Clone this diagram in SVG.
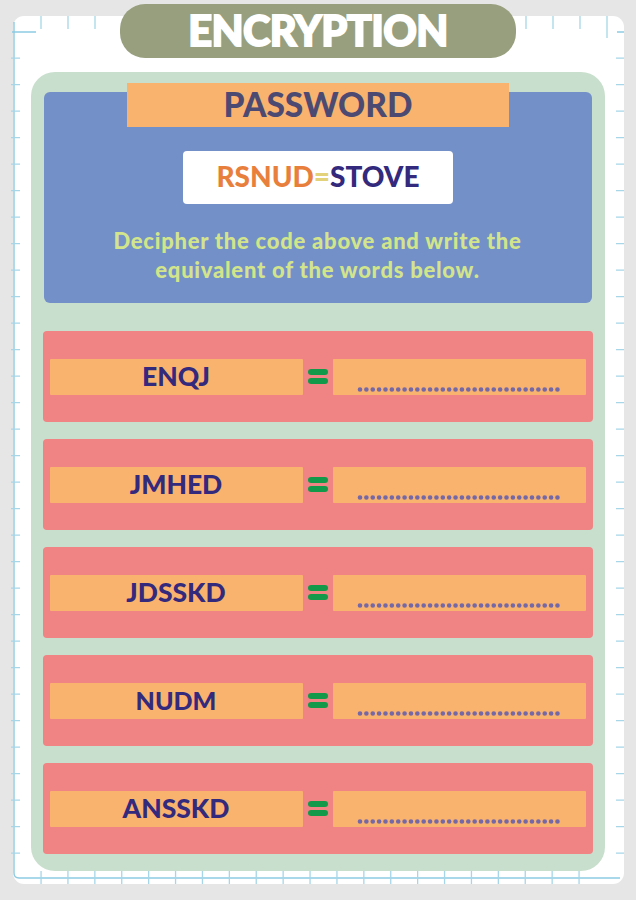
<svg xmlns="http://www.w3.org/2000/svg" width="636" height="900" viewBox="0 0 636 900">
<style>
.t{font-family:"Lato","Noto Sans",sans-serif;font-weight:900;text-anchor:middle}
.row{fill:#f08383}
.box{fill:#fab26f}
.word{font-size:26.5px;fill:#33297d}
.eq{fill:#12994a}
.dots{fill:none;stroke:#7468a6;stroke-width:4.6;stroke-linecap:round;stroke-dasharray:0 6.37}
.g{stroke:#a6d6e8;stroke-width:1.3;fill:none}
.g2{stroke:#8ccbe2;stroke-width:1.4;fill:none}
.tv{stroke-dasharray:1.3 25.2}
.th{stroke-dasharray:1.3 25.6}
.sub{font-size:22px;fill:#d3e58a;letter-spacing:.75px}
</style>
<rect width="636" height="900" fill="#e6e6e6"/>
<rect x="13" y="16" width="611" height="868" rx="11" fill="#fff"/>
<g id="grid">
<path class="g2" d="M14 22V873Q14 878 19 878H620M12 32H36M617 32H624"/>
<path class="g" d="M41 16V29M68 16V29M95 16V29M526 16V29M553 16V29M580 16V29M607 16V38"/>
<path class="g tv" style="stroke-width:9" d="M15.500 57.400V860"/>
<path class="g tv" style="stroke-width:8" d="M620 57.400V860"/>
<path class="g th" style="stroke-width:13" d="M40.400 877.500H590"/>
</g>
<g id="title">
<rect x="120" y="4" width="396" height="54" rx="25" fill="#979f7e"/>
<text class="t" x="318" y="46" font-size="41.500" letter-spacing="-.6" fill="#fff" stroke="#fff" stroke-width="1.800">ENCRYPTION</text>
</g>
<rect id="panel" x="31" y="72" width="574" height="799" rx="24" fill="#c9dfcd"/>
<g id="password">
<rect x="44" y="92" width="548" height="211" rx="6" fill="#7390c9"/>
<rect class="box" x="127" y="83" width="382" height="44"/>
<text class="t" x="318" y="117" font-size="33.500" fill="#4c4a72">PASSWORD</text>
<rect x="183" y="151" width="270" height="53" rx="4" fill="#fff"/>
<text class="t" x="318" y="186.500" font-size="28"><tspan fill="#e97f3c">RSNUD</tspan><tspan fill="#e3d27a">=</tspan><tspan fill="#33297d">STOVE</tspan></text>
<text class="t sub" x="317.500" y="249">Decipher the code above and write the</text>
<text class="t sub" x="317.500" y="278">equivalent of the words below.</text>
</g>
<g id="row1">
<rect class="row" x="43" y="331" width="550" height="91" rx="4"/>
<rect class="box" x="50" y="359" width="253" height="36" rx="1"/>
<text class="t word" x="176" y="386">ENQJ</text>
<rect class="eq" x="308" y="369" width="20" height="6" rx="3"/><rect class="eq" x="308" y="378" width="20" height="6" rx="3"/>
<rect class="box" x="333" y="359" width="253" height="36" rx="1"/>
<path class="dots" d="M360 389.500H561"/>
</g>
<g id="row2">
<rect class="row" x="43" y="439" width="550" height="91" rx="4"/>
<rect class="box" x="50" y="467" width="253" height="36" rx="1"/>
<text class="t word" x="176" y="494">JMHED</text>
<rect class="eq" x="308" y="477" width="20" height="6" rx="3"/><rect class="eq" x="308" y="486" width="20" height="6" rx="3"/>
<rect class="box" x="333" y="467" width="253" height="36" rx="1"/>
<path class="dots" d="M360 497.500H561"/>
</g>
<g id="row3">
<rect class="row" x="43" y="547" width="550" height="91" rx="4"/>
<rect class="box" x="50" y="575" width="253" height="36" rx="1"/>
<text class="t word" x="176" y="602">JDSSKD</text>
<rect class="eq" x="308" y="585" width="20" height="6" rx="3"/><rect class="eq" x="308" y="594" width="20" height="6" rx="3"/>
<rect class="box" x="333" y="575" width="253" height="36" rx="1"/>
<path class="dots" d="M360 605.500H561"/>
</g>
<g id="row4">
<rect class="row" x="43" y="655" width="550" height="91" rx="4"/>
<rect class="box" x="50" y="683" width="253" height="36" rx="1"/>
<text class="t word" x="176" y="710" style="font-size:25px">NUDM</text>
<rect class="eq" x="308" y="693" width="20" height="6" rx="3"/><rect class="eq" x="308" y="702" width="20" height="6" rx="3"/>
<rect class="box" x="333" y="683" width="253" height="36" rx="1"/>
<path class="dots" d="M360 713.500H561"/>
</g>
<g id="row5">
<rect class="row" x="43" y="763" width="550" height="91" rx="4"/>
<rect class="box" x="50" y="791" width="253" height="36" rx="1"/>
<text class="t word" x="176" y="818">ANSSKD</text>
<rect class="eq" x="308" y="801" width="20" height="6" rx="3"/><rect class="eq" x="308" y="810" width="20" height="6" rx="3"/>
<rect class="box" x="333" y="791" width="253" height="36" rx="1"/>
<path class="dots" d="M360 821.500H561"/>
</g>
<g id="connectors"/>
</svg>
